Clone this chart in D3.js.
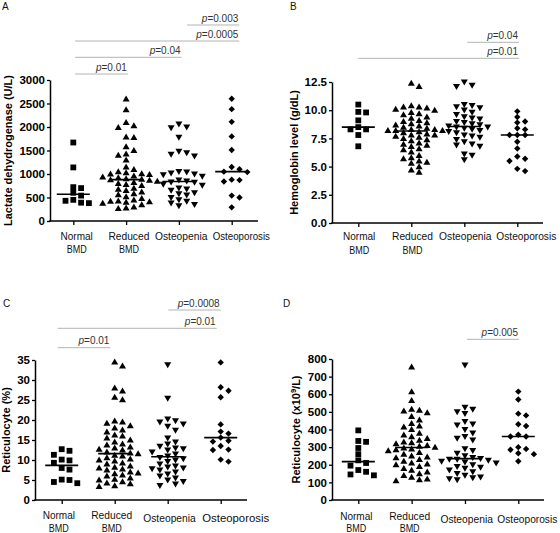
<!DOCTYPE html>
<html><head><meta charset="utf-8">
<script src="https://cdn.jsdelivr.net/npm/d3@7"></script>
<style>body{margin:0;background:#fff}svg{display:block}text{font-family:"Liberation Sans",Arial,sans-serif}</style>
</head><body>
<svg id="c" width="560" height="533"></svg>
<script>
const categories = ["Normal BMD","Reduced BMD","Osteopenia","Osteoporosis"];

// Panel A: Lactate dehydrogenase (U/L)
const ldhNormal = [1670,1140,720,700,600,540,450,430,390,380];
const ldhReduced = [2600,2370,2100,2030,1990,1790,1780,1580,1500,1430,1400,1300,1150,1100,1050,1030,1010,1000,990,960,940,920,900,890,880,870,850,820,800,780,760,700,680,650,620,580,560,520,480,450,430,420,410,400,380,350,300,280,270];
const ldhOsteopenia = [2060,2000,1980,1780,1480,1450,1420,1380,1050,1040,1020,1000,980,950,870,850,830,820,780,760,700,680,650,600,580,550,500,450,420,380,350,320];
const ldhOsteoporosis = [2600,2380,2110,1800,1510,1150,1100,1050,1040,880,870,840,540,500,290];
const ldhTicks = [0,500,1000,1500,2000,2500,3000];
const ldhSig = [
  {from:"Normal BMD", to:"Reduced BMD", label:"0.01"},
  {from:"Normal BMD", to:"Osteopenia", label:"0.04"},
  {from:"Normal BMD", to:"Osteoporosis", label:"0.0005"},
  {from:"Osteopenia", to:"Osteoporosis", label:"0.003"}
];

// Panel B: Hemoglobin level (g/dL)
const hbNormal = [10.5,9.85,9.8,9.1,8.5,8.3,8.3,7.8,6.8];
const hbReduced = [12.4,12.1,10.4,10.3,10.3,10.2,10.1,10.0,9.8,9.7,9.6,9.4,9.3,9.1,9.0,8.9,8.8,8.7,8.6,8.5,8.4,8.3,8.3,8.2,8.2,8.2,8.1,8.0,7.9,7.8,7.8,7.7,7.6,7.5,7.4,7.3,7.1,7.0,6.9,6.8,6.6,6.5,6.3,6.0,5.8,5.7,5.5,5.4,5.3,5.0,4.7,4.5];
const hbOsteopenia = [12.5,12.2,12.1,10.5,10.4,10.3,10.2,10.0,9.8,9.6,9.4,9.3,9.2,9.0,8.9,8.8,8.7,8.6,8.5,8.5,8.4,8.3,8.2,8.1,8.0,7.8,7.7,7.6,7.4,7.2,7.0,6.9,6.8,6.1,6.0,5.6];
const hbOsteoporosis = [9.9,9.4,9.0,8.9,8.4,8.3,7.8,7.8,7.8,7.2,6.6,5.9,5.7,5.5,4.8,4.6];
const hbTicks = [0,2.5,5,7.5,10,12.5];
const hbSig = [
  {from:"Normal BMD", to:"Osteoporosis", label:"0.01"},
  {from:"Osteopenia", to:"Osteoporosis", label:"0.04"}
];

// Panel C: Reticulocyte (%)
const retPctNormal = [12.7,12.3,11.3,10.1,9.9,9.3,8.0,7.6,5.1,5.0,4.5,4.2];
const retPctReduced = [34.5,33.5,28.0,27.3,25.7,25.1,19.8,19.5,19.2,18.6,18.0,17.5,17.0,16.3,16.0,15.5,15.0,14.5,14.0,13.8,13.3,13.0,12.7,12.5,12.0,11.8,11.6,11.2,11.0,10.6,10.3,10.0,9.8,9.3,9.0,8.5,8.2,8.0,7.8,7.5,7.0,6.8,6.6,6.3,6.0,5.5,5.2,5.0,4.6,4.3,4.1,3.6,3.4];
const retPctOsteopenia = [33.8,25.4,20.2,19.8,19.5,19.0,18.4,17.4,15.5,14.5,14.0,13.4,13.0,12.8,12.5,12.0,11.5,11.0,10.6,10.3,10.0,9.6,9.0,8.5,8.2,8.0,7.8,7.5,7.0,6.5,6.0,5.5,5.0,4.6,4.0,3.6];
const retPctOsteoporosis = [34.4,28.2,27.3,25.7,18.9,17.1,16.6,15.6,14.8,14.6,13.5,12.6,12.5,10.1,9.6];
const retPctTicks = [0,5,10,15,20,25,30,35];
const retPctSig = [
  {from:"Normal BMD", to:"Reduced BMD", label:"0.01"},
  {from:"Normal BMD", to:"Osteoporosis", label:"0.01"},
  {from:"Osteopenia", to:"Osteoporosis", label:"0.0008"}
];

// Panel D: Reticulocyte (x10^9/L)
const retAbsNormal = [395,335,330,295,260,225,210,195,170,160,145,140];
const retAbsReduced = [755,615,565,515,510,505,495,475,455,435,420,415,400,380,370,360,350,340,330,325,320,310,305,300,295,290,285,280,270,260,250,245,240,230,220,210,205,200,190,180,170,160,150,140,130,120,115,110];
const retAbsOsteopenia = [765,525,515,500,490,445,430,425,400,380,360,350,340,290,280,265,250,240,235,230,230,225,220,215,210,200,190,185,180,170,160,150,140,130,125,120,115];
const retAbsOsteoporosis = [615,570,490,480,430,420,370,360,360,300,290,285,265,260,220];
const retAbsTicks = [0,100,200,300,400,500,600,700,800];
const retAbsSig = [
  {from:"Osteopenia", to:"Osteoporosis", label:"0.005"}
];

// ---- layout (not data) ----
const panels = [
  {letter:"A", lx:2, ly:9.5, ax:[50,258], pts:[73.3,231.7], yTop:80, yBot:221, max:3000, ticks:ldhTicks, fmt:d3.format("d"),
   series:[ldhNormal,ldhReduced,ldhOsteopenia,ldhOsteoporosis], sig:ldhSig,
   sigY:[74,57.3,41,25], sigDx:[[1.7,1.7],[1.7,2.7],[1.7,7.6],[8.3,7.6]],
   labDx:[3.4,2.8,2.3,9.6], lab1:19.3, lab2:32.3, labS:19.3, poroW:57.3, poroF:11,
   title:"Lactate dehydrogenase (U/L)", tx:12},
  {letter:"B", lx:290, ly:9.5, ax:[332,543], pts:[358.3,517.3], yTop:82, yBot:223, max:12.5, ticks:hbTicks, fmt:d3.format(".1f"),
   series:[hbNormal,hbReduced,hbOsteopenia,hbOsteoporosis], sig:hbSig,
   sigY:[58.3,42.3], sigDx:[[0,1.7],[3,1.7]],
   labDx:[0.9,1.2,1,9], lab1:17, lab2:30.5, labS:17, poroW:60, poroF:10.3,
   title:"Hemoglobin level (g/dL)", tx:298},
  {letter:"C", lx:3, ly:306.5, ax:[35,247], pts:[61.7,220.7], yTop:360, yBot:500, max:35, ticks:retPctTicks, fmt:d3.format("d"),
   series:[retPctNormal,retPctReduced,retPctOsteopenia,retPctOsteoporosis], sig:retPctSig,
   sigY:[347.7,328.3,310], sigDx:[[-4,-4.3],[-4,-4],[0.6,0]],
   labDx:[-2.9,-3,1.8,15], lab1:19, lab2:31.5, labS:22, poroW:67, poroF:11,
   title:"Reticulocyte (%)", tx:10},
  {letter:"D", lx:283, ly:306.5, ax:[332,544], pts:[358.3,518.3], yTop:359, yBot:500, max:800, ticks:retAbsTicks, fmt:d3.format("d"),
   series:[retAbsNormal,retAbsReduced,retAbsOsteopenia,retAbsOsteoporosis], sig:retAbsSig,
   sigY:[339.3], sigDx:[[2,0.7]],
   labDx:[-2,-2,1.7,9], lab1:19.5, lab2:31.5, labS:22.5, poroW:60, poroF:10.3,
   title:null, tx:300}
];
const labelW = {"Normal":32.3, "BMD":20, "Reduced":41, "Osteopenia":52.5};

const svg = d3.select("#c");
svg.append("rect").attr("width",560).attr("height",533).attr("fill","#fff");

const shapes = [
  g=>g.append("rect").attr("x",-2.9).attr("y",-2.9).attr("width",5.8).attr("height",5.8),
  g=>g.append("path").attr("d","M0,-3.4L3.5,2.6L-3.5,2.6Z"),
  g=>g.append("path").attr("d","M0,3.4L3.5,-2.6L-3.5,-2.6Z"),
  g=>g.append("path").attr("d","M0,-3.2L3.2,0L0,3.2L-3.2,0Z")
];

function swarm(values, y, step, rowH){
  const pts = values.map(v=>({v, y:y(v)})).sort((a,b)=>b.v-a.v);
  const placed = [];
  pts.forEach(p=>{
    for(let k=0;k<40;k++){
      const off = k===0?0:(k%2===1? Math.ceil(k/2)*step : -Math.ceil(k/2)*step);
      const hit = placed.some(q=>Math.abs(q.y-p.y)<rowH && Math.abs(q.x-off)<step*0.95);
      if(!hit){p.x=off;break;}
    }
    placed.push(p);
  });
  return placed;
}

panels.forEach(P=>{
  const g = svg.append("g");
  const x = d3.scalePoint().domain(categories).range(P.pts);
  const y = d3.scaleLinear().domain([0,P.max]).range([P.yBot,P.yTop]);

  g.append("text").attr("x",P.lx).attr("y",P.ly).attr("font-size",10).attr("fill","#111").text(P.letter);

  // y axis
  const ya = g.append("g").attr("transform",`translate(${P.ax[0]},0)`)
    .call(d3.axisLeft(y).tickValues(P.ticks).tickFormat(P.fmt).tickSize(3).tickSizeOuter(0).tickPadding(2));
  ya.selectAll("text").attr("font-size",11.5).attr("font-weight","bold").attr("fill","#000")
    .attr("font-family","'Liberation Sans',Arial,sans-serif");
  ya.select(".domain").attr("stroke","#000").attr("stroke-width",1.5);
  ya.selectAll(".tick line").attr("stroke","#000").attr("stroke-width",1.3);

  // x axis
  const xa = g.append("g").attr("transform",`translate(0,${P.yBot})`)
    .call(d3.axisBottom(x).tickSize(4).tickSizeOuter(0).tickFormat(""));
  xa.select(".domain").remove();
  xa.selectAll(".tick line").attr("stroke","#000").attr("stroke-width",1.3);
  g.append("line").attr("x1",P.ax[0]-0.75).attr("x2",P.ax[1]).attr("y1",P.yBot).attr("y2",P.yBot)
    .attr("stroke","#000").attr("stroke-width",1.5);

  categories.forEach((c,i)=>{
    const parts = c.endsWith(" BMD") ? [c.replace(" BMD",""),"BMD"] : [c];
    const cx = x(c)+P.labDx[i];
    parts.forEach((s,j)=>{
      const yy = P.yBot + (parts.length===1 ? P.labS : (j===0?P.lab1:P.lab2));
      const poro = s==="Osteoporosis";
      const w = poro ? P.poroW : labelW[s];
      g.append("text").attr("x",cx).attr("y",yy).attr("text-anchor","middle")
        .attr("font-size",poro?P.poroF:11).attr("fill","#111")
        .attr("textLength",w).attr("lengthAdjust","spacingAndGlyphs").text(s);
    });
  });

  // axis title
  const tt = g.append("text").attr("transform",`translate(${P.tx},${(P.yTop+P.yBot)/2}) rotate(-90)`)
    .attr("text-anchor","middle").attr("font-size",11).attr("font-weight","bold").attr("fill","#000");
  if(P.title){ tt.text(P.title); }
  else {
    tt.append("tspan").text("Reticulocyte (x10");
    tt.append("tspan").attr("font-size",7.5).attr("dy",-4).text("9");
    tt.append("tspan").attr("dy",4).text("/L)");
  }

  // points + medians
  P.series.forEach((vals,i)=>{
    const c = categories[i];
    swarm(vals, y, 7.8, 5.6).forEach(p=>{
      const pg = g.append("g").attr("transform",`translate(${x(c)+p.x},${p.y})`).attr("fill","#000");
      shapes[i](pg);
    });
    const med = d3.median(vals);
    g.append("line").attr("x1",x(c)-16.5).attr("x2",x(c)+16.5)
      .attr("y1",y(med)).attr("y2",y(med)).attr("stroke","#000").attr("stroke-width",1.6);
  });

  // significance bars
  P.sig.forEach((s,i)=>{
    const yy = P.sigY[i];
    const x1 = x(s.from)+P.sigDx[i][0], x2 = x(s.to)+P.sigDx[i][1];
    g.append("line").attr("x1",x1).attr("x2",x2).attr("y1",yy).attr("y2",yy)
      .attr("stroke","#aaa").attr("stroke-width",0.9);
    const t = g.append("text").attr("x",x2-1).attr("y",yy-3.3).attr("text-anchor","end")
      .attr("font-size",10).attr("fill","#333");
    t.append("tspan").attr("font-style","italic").text("p");
    t.append("tspan").text("="+s.label);
  });
});
</script>
</body></html>
